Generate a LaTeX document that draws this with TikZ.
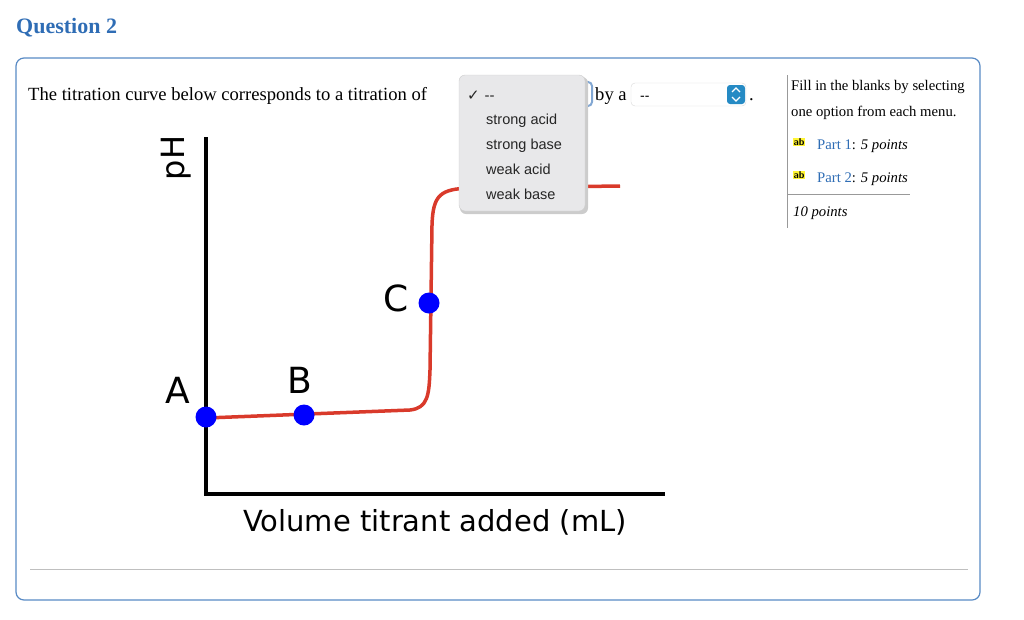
\documentclass[tikz,border=0pt]{standalone}
\usepackage{fontspec}
\setmainfont{Liberation Serif}
\newfontfamily\dv{DejaVu Sans}
\newfontfamily\ui{Liberation Sans}
\definecolor{qblue}{HTML}{2F6DB5}
\definecolor{menug}{HTML}{E8E8EA}
\definecolor{curve}{HTML}{D93A2B}
\begin{document}
\begin{tikzpicture}[x=1pt,y=-1pt,
  lbl/.style={inner sep=0pt,anchor=base west},
  side/.style={lbl,font=\fontsize{14.7}{15}\selectfont},
  mitem/.style={lbl,font=\ui\fontsize{14.5}{15}\selectfont,text=black!85},
  dot/.style={circle,fill=blue,inner sep=0pt,minimum size=21pt},
  big/.style={font=\dv\fontsize{36}{38}\selectfont,inner sep=0pt}]
\useasboundingbox (0,0) rectangle (1024,619);
\node[lbl,font=\bfseries\fontsize{22}{24}\selectfont,text=qblue] (title) at (16,33) {Question 2};
\draw[qblue!80,line width=1.2pt,rounded corners=8pt] (16,58) rectangle (980,600);
\node[lbl,font=\fontsize{18.6}{20}\selectfont] (t1) at (28,100) {The titration curve below corresponds to a titration of};
\draw[qblue!60,line width=2pt,rounded corners=4pt] (560,82) rectangle (592,106);
\node[lbl,font=\fontsize{18.6}{20}\selectfont] (t2) at (595,100) {by a};
\draw[black!15,rounded corners=4pt,fill=white] (631,83) rectangle (746,106);
\node[lbl,font=\ui\fontsize{14}{15}\selectfont] (dash2) at (640,100) {--};
\fill[qblue!80!cyan,rounded corners=3pt] (727,85) rectangle (745,104);
\draw[white,line width=1.2pt] (732,92)--(736,88)--(740,92) (732,97)--(736,101)--(740,97);
\node[lbl,font=\fontsize{18.6}{20}\selectfont] (dot) at (749,100) {.};
% sidebar
\draw[black!40] (787,75) -- (787,228);
\node[side] (s1) at (791,90) {Fill in the blanks by selecting};
\node[side] (s2) at (791,116) {one option from each menu.};
\node[lbl,font=\sffamily\bfseries\fontsize{10}{10}\selectfont,fill=yellow!80,inner sep=0.5pt] (i1) at (793,145) {ab};
\node[side] (p1) at (817,149) {\textcolor{qblue}{Part 1}: \textit{5 points}};
\node[lbl,font=\sffamily\bfseries\fontsize{10}{10}\selectfont,fill=yellow!80,inner sep=0.5pt] (i2) at (793,178) {ab};
\node[side] (p2) at (817,182) {\textcolor{qblue}{Part 2}: \textit{5 points}};
\draw[black!40] (787,194) -- (910,194);
\node[side] (p3) at (793,216) {\textit{10 points}};
% graph
\draw[curve,line width=3.5pt] (206,418) -- (410,410) .. controls (428,408) and (429,395) .. (430,370) -- (432,225) .. controls (433,195) and (440,189) .. (470,188) -- (620,186);
\draw[black,line width=4.5pt] (206,137) -- (206,494) -- (665,494);
\node[big,rotate=90,font=\dv\fontsize{32}{34}\selectfont] (ph) at (176,158) {pH};
\node[dot] (A) at (206,417) {};
\node[dot] (B) at (304,415) {};
\node[dot] (C) at (429,303) {};
\node[big] (la) at (178,390) {A};
\node[big] (lb) at (300,380) {B};
\node[big] (lc) at (396,298) {C};
\node[font=\dv\fontsize{29}{31}\selectfont,inner sep=0pt] (xl) at (435,522) {Volume titrant added (mL)};
% menu
\fill[black!20,rounded corners=6pt] (460,77) rectangle (588,214);
\draw[black!20,fill=menug,rounded corners=6pt] (459,75) rectangle (585,211);
\node[mitem] (m0) at (467,100) {\dv\fontsize{15}{16}\selectfont✓ \ui--};
\node[mitem] (m1) at (486,124) {strong acid};
\node[mitem] (m2) at (486,149) {strong base};
\node[mitem] (m3) at (486,174) {weak acid};
\node[mitem] (m4) at (486,199) {weak base};
\draw[black!25] (30,569) -- (968,569);
\end{tikzpicture}
\end{document}
